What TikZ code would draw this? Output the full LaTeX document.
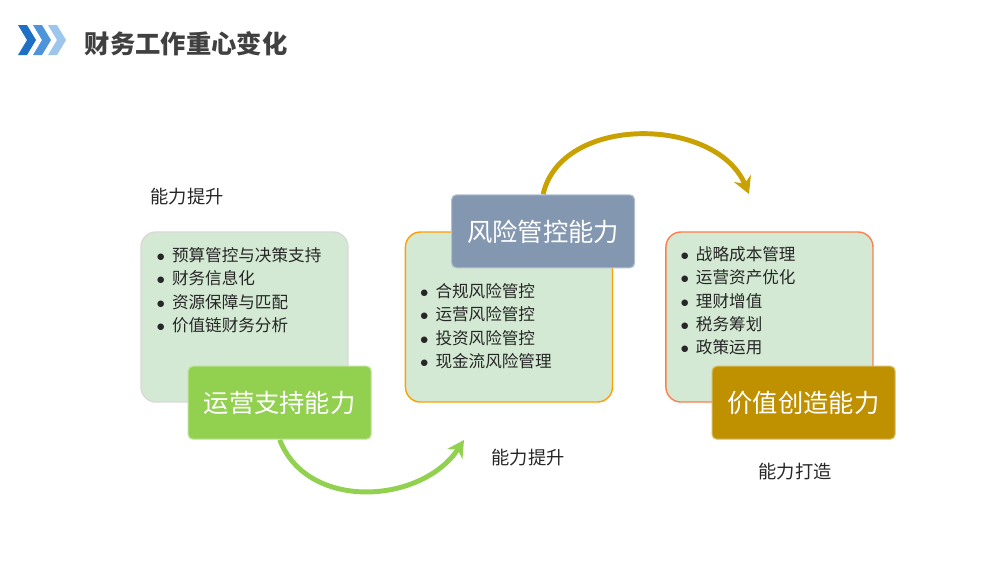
\documentclass[tikz,border=0pt]{standalone}
\usepackage{fontspec}
\setmainfont{Noto Sans CJK SC}
\usepackage{xcolor}
\usetikzlibrary{arrows.meta, positioning, backgrounds}

\definecolor{panelgreen}{HTML}{D3E9D3}
\definecolor{opsgreen}{HTML}{92D050}
\definecolor{riskblue}{HTML}{8497B0}
\definecolor{valuegold}{HTML}{BF9000}
\definecolor{txtgray}{HTML}{262626}
\definecolor{titlegray}{HTML}{404040}
\definecolor{chevdark}{HTML}{1F6FC5}
\definecolor{chevmid}{HTML}{4D94DB}
\definecolor{chevlight}{HTML}{9DC6EC}

\newcommand{\bitem}{\makebox[11pt][l]{$\bullet$}}

\begin{document}
\begin{tikzpicture}[
  x=0.025cm, y=-0.025cm,
  node distance=1.4cm,
  panel/.style={rectangle, rounded corners=0.375cm, fill=panelgreen, line width=1pt, minimum width=5.175cm, minimum height=4.25cm},
  list/.style={anchor=north west, inner sep=0pt, align=left, text=txtgray, font=\fontsize{11.8}{16.6}\selectfont},
  tag/.style={rectangle, rounded corners=0.12cm, line width=0.8pt, minimum width=4.575cm, minimum height=1.825cm, text=white, font=\fontsize{18}{20}\selectfont},
  note/.style={text=txtgray, font=\fontsize{13}{15}\selectfont},
  flow/.style={line width=3.5pt, -{Stealth[length=12pt, width=13pt, inset=4pt]}}
]
\useasboundingbox (0,0) rectangle (1000,561);

% Title
\foreach \i/\c in {0/chevdark,1/chevmid,2/chevlight}
  \fill[\c] ({18+15*\i},25) -- ++(9,0) -- ++(9,15) -- ++(-9,15) -- ++(-9,0) -- ++(9,-15) -- cycle;
\node[anchor=west, text=titlegray, font=\fontsize{18}{20}\selectfont\bfseries] (title) at (80,44) {财务工作重心变化};

% Nodes
\node[panel, draw=gray!30] (opsPanel) at (244.5,317) {};
\node[panel, draw=orange!75!yellow, right=of opsPanel] (riskPanel) {};
\node[panel, draw=red!45!orange!70, right=1.3cm of riskPanel] (valuePanel) {};

\node[list] (opsList) at ([xshift=0.4cm, yshift=-0.4cm]opsPanel.north west)
  {\bitem 预算管控与决策支持\\ \bitem 财务信息化\\ \bitem 资源保障与匹配\\ \bitem 价值链财务分析};
\node[list] (riskList) at ([xshift=0.375cm, yshift=-1.3cm]riskPanel.north west)
  {\bitem 合规风险管控\\ \bitem 运营风险管控\\ \bitem 投资风险管控\\ \bitem 现金流风险管理};
\node[list] (valueList) at ([xshift=0.375cm, yshift=-0.375cm]valuePanel.north west)
  {\bitem 战略成本管理\\ \bitem 运营资产优化\\ \bitem 理财增值\\ \bitem 税务筹划\\ \bitem 政策运用};

\node[tag, fill=opsgreen, draw=opsgreen!60!white, anchor=south east] (opsTag) at ([xshift=0.575cm, yshift=-0.925cm]opsPanel.south east) {运营支持能力};
\node[tag, fill=riskblue, draw=riskblue!60!white, anchor=north east] (riskTag) at ([xshift=0.55cm, yshift=0.925cm]riskPanel.north east) {风险管控能力};
\node[tag, fill=valuegold, draw=valuegold!60!white, anchor=south east] (valueTag) at ([xshift=0.55cm, yshift=-0.925cm]valuePanel.south east) {价值创造能力};

\node[note] (noteA) at (187,197) {能力提升};
\node[note] (noteB) at (528,458) {能力提升};
\node[note] (noteC) at (795,472) {能力打造};

\coordinate (riseEnd) at (464,440);
\coordinate (peakEnd) at (749,194);

% Arrows
\begin{scope}[on background layer]
  \draw[flow, draw=opsgreen] (opsTag.south) .. controls +(28,72) and +(-42,64) .. (riseEnd);
  \draw[flow, draw=valuegold!85!yellow] (riskTag.north) .. controls +(18,-80) and +(-33,-78) .. (peakEnd);
\end{scope}

\end{tikzpicture}
\end{document}
